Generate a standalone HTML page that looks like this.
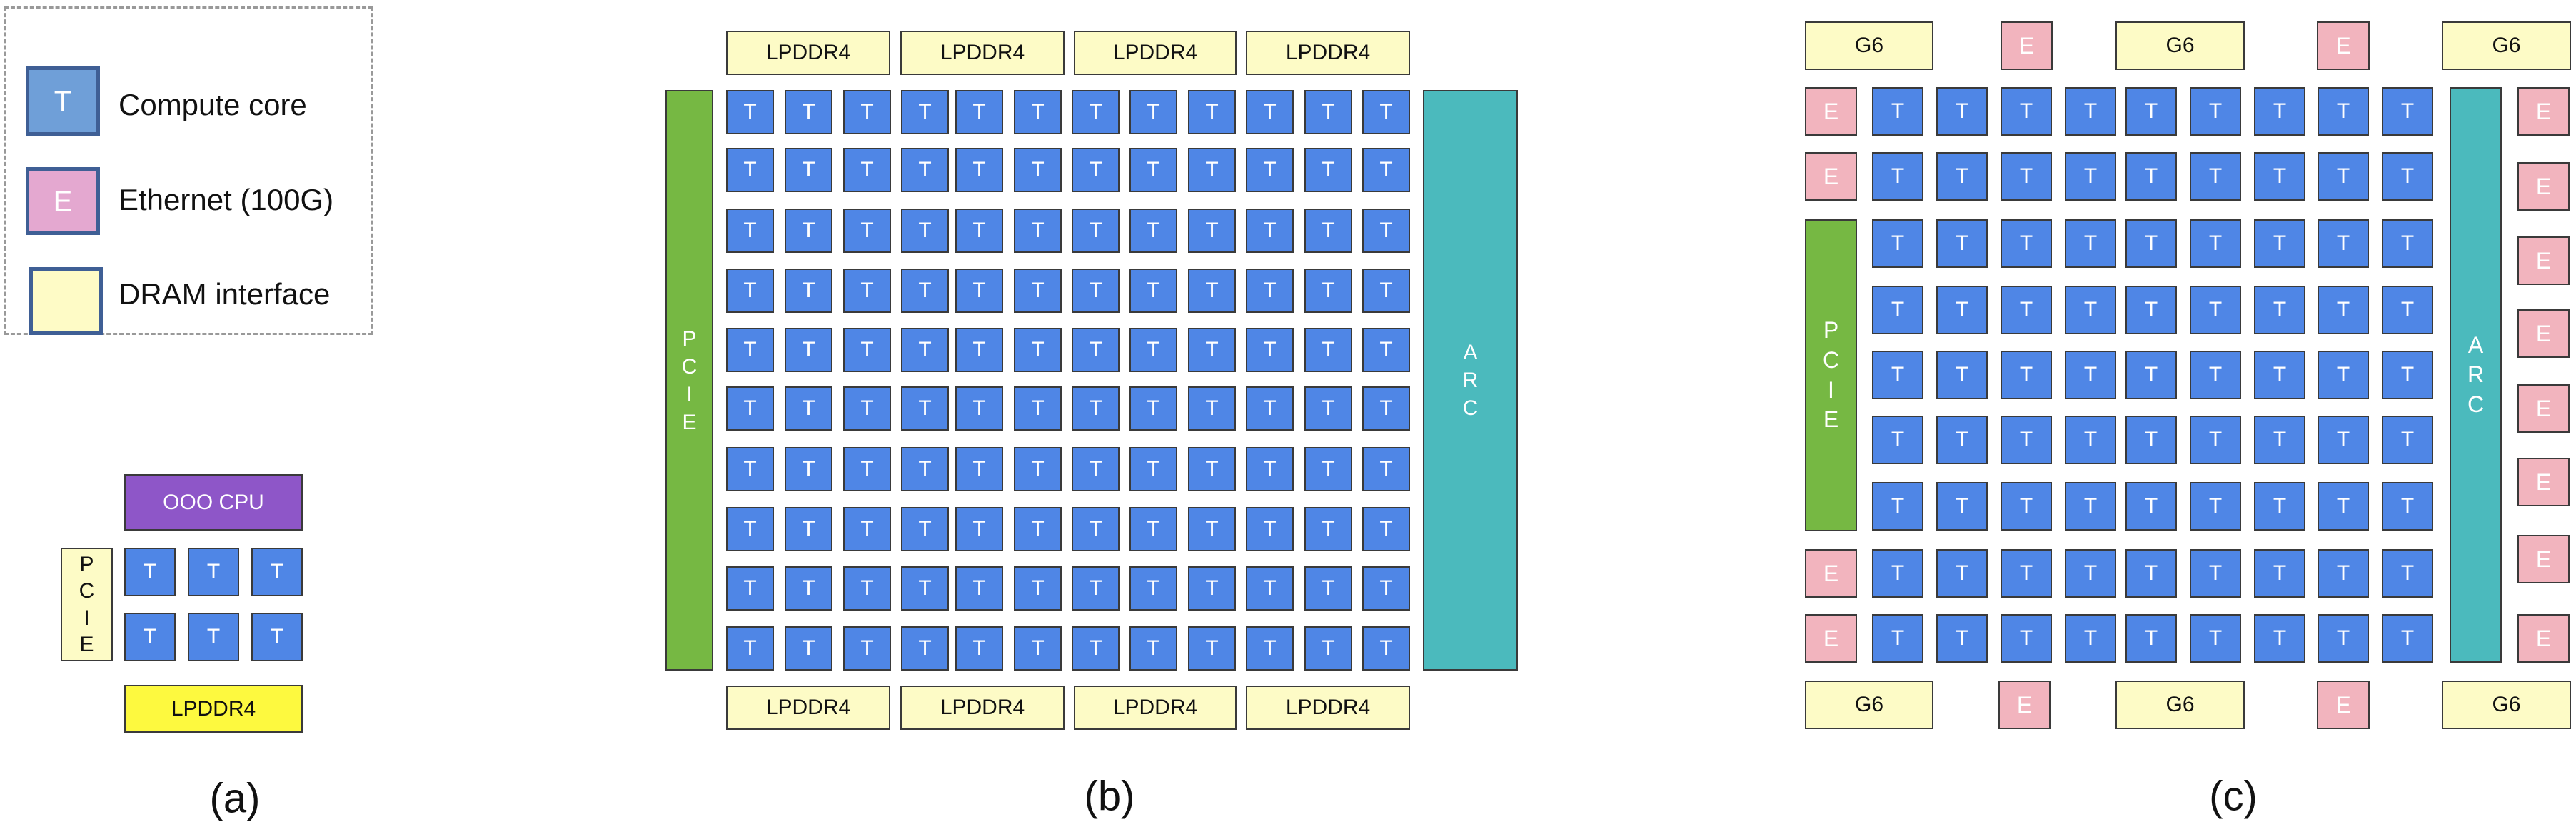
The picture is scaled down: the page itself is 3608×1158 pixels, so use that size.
<!DOCTYPE html>
<html><head><meta charset="utf-8"><style>
body{margin:0;width:3608px;height:1158px;background:#fff;position:relative;overflow:hidden;font-family:"Liberation Sans",sans-serif}
.b{position:absolute;box-sizing:border-box;border:2px solid #3a3a3a;display:flex;align-items:center;justify-content:center;text-align:center;line-height:1}
.t{background:#4f86e6;color:#fff;font-size:30px}
.e{background:#f2b4be;color:#fff;font-size:32px}
.y{background:#fdfbc6;color:#111;font-size:30px}
.g{background:#76b843;color:#fff;font-size:30px}
.a{background:#4bbabd;color:#fff;font-size:30px}
.v{flex-direction:column;line-height:1.3}
.lab{position:absolute;font-size:58px;color:#111;transform:translate(-50%,-50%)}
.lt{position:absolute;font-size:42px;color:#111;transform:translateY(-50%)}
</style></head><body>
<div style="position:absolute;left:6px;top:9px;width:516px;height:460px;box-sizing:border-box;border:3px dashed #999"></div>
<div class="b" style="left:36px;top:93px;width:104px;height:97px;background:#6f9fd8;border:5px solid #3f5f95;color:#fff;font-size:40px">T</div>
<div class="lt" style="left:166px;top:147px">Compute core</div>
<div class="b" style="left:36px;top:234px;width:104px;height:95px;background:#e4a8d0;border:5px solid #3f5f95;color:#fff;font-size:40px">E</div>
<div class="lt" style="left:166px;top:280px">Ethernet (100G)</div>
<div class="b" style="left:41px;top:374px;width:103px;height:95px;background:#fefbc6;border:5px solid #3f5f95"></div>
<div class="lt" style="left:166px;top:412px">DRAM interface</div>

<div class="b" style="left:174px;top:664px;width:250px;height:79px;background:#8e56c8;color:#fff;font-size:30px">OOO CPU</div>
<div class="b y v" style="left:85px;top:767px;width:73px;height:159px;font-size:30px;line-height:1.25">P<br>C<br>I<br>E</div>
<div class="b" style="left:174px;top:959px;width:250px;height:67px;background:#fdf93f;color:#111;font-size:30px">LPDDR4</div>
<div class="lab" style="left:329px;top:1118px">(a)</div>
<div class="lab" style="left:1554px;top:1115px">(b)</div>
<div class="lab" style="left:3128px;top:1115px">(c)</div>

<div class="b g v" style="left:932px;top:126px;width:67px;height:813px">P<br>C<br>I<br>E</div>
<div class="b a v" style="left:1993px;top:126px;width:133px;height:813px">A<br>R<br>C</div>

<div class="b g v" style="left:2528px;top:307px;width:73px;height:437px;font-size:32px">P<br>C<br>I<br>E</div>
<div class="b a v" style="left:3431px;top:122px;width:73px;height:806px;font-size:32px">A<br>R<br>C</div>
<div id="root"></div>
<script>
var h='';
function box(c,x,y,w,hh,t){h+='<div class="b '+c+'" style="left:'+x+'px;top:'+y+'px;width:'+w+'px;height:'+hh+'px">'+t+'</div>';}
// (a) cores
[174,263,352].forEach(function(x){[767,858].forEach(function(y){box('t',x,y,72,68,'T');});});
// (b)
[[1017,1247],[1261,1491],[1504,1732],[1745,1975]].forEach(function(p){box('y',p[0],43,p[1]-p[0],62,'LPDDR4');box('y',p[0],960,p[1]-p[0],62,'LPDDR4');});
var bx=[1017,1099,1181,1262,1338,1420,1501,1582,1664,1745,1827,1908];
var by=[126,207,292,376,459,541,626,710,793,877];
bx.forEach(function(x){by.forEach(function(y){box('t',x,y,67,62,'T');});});
// (c)
var cx=[2622,2712,2802,2892,2977,3067,3157,3246,3336];
var cy=[122,213,307,400,491,582,675,769,860];
cx.forEach(function(x){cy.forEach(function(y){box('t',x,y,72,68,'T');});});
[[2528,180],[2963,181],[3420,181]].forEach(function(p){box('y',p[0],30,p[1],68,'G6');box('y',p[0],953,p[1],68,'G6');});
box('e',2802,30,73,68,'E');box('e',3245,30,74,68,'E');
box('e',2799,953,73,68,'E');box('e',3245,953,74,68,'E');
[122,213,769,860].forEach(function(y){box('e',2528,y,73,68,'E');});
[122,227,331,433,538,641,749,860].forEach(function(y){box('e',3526,y,73,68,'E');});
document.getElementById('root').innerHTML=h;
</script>
</body></html>
